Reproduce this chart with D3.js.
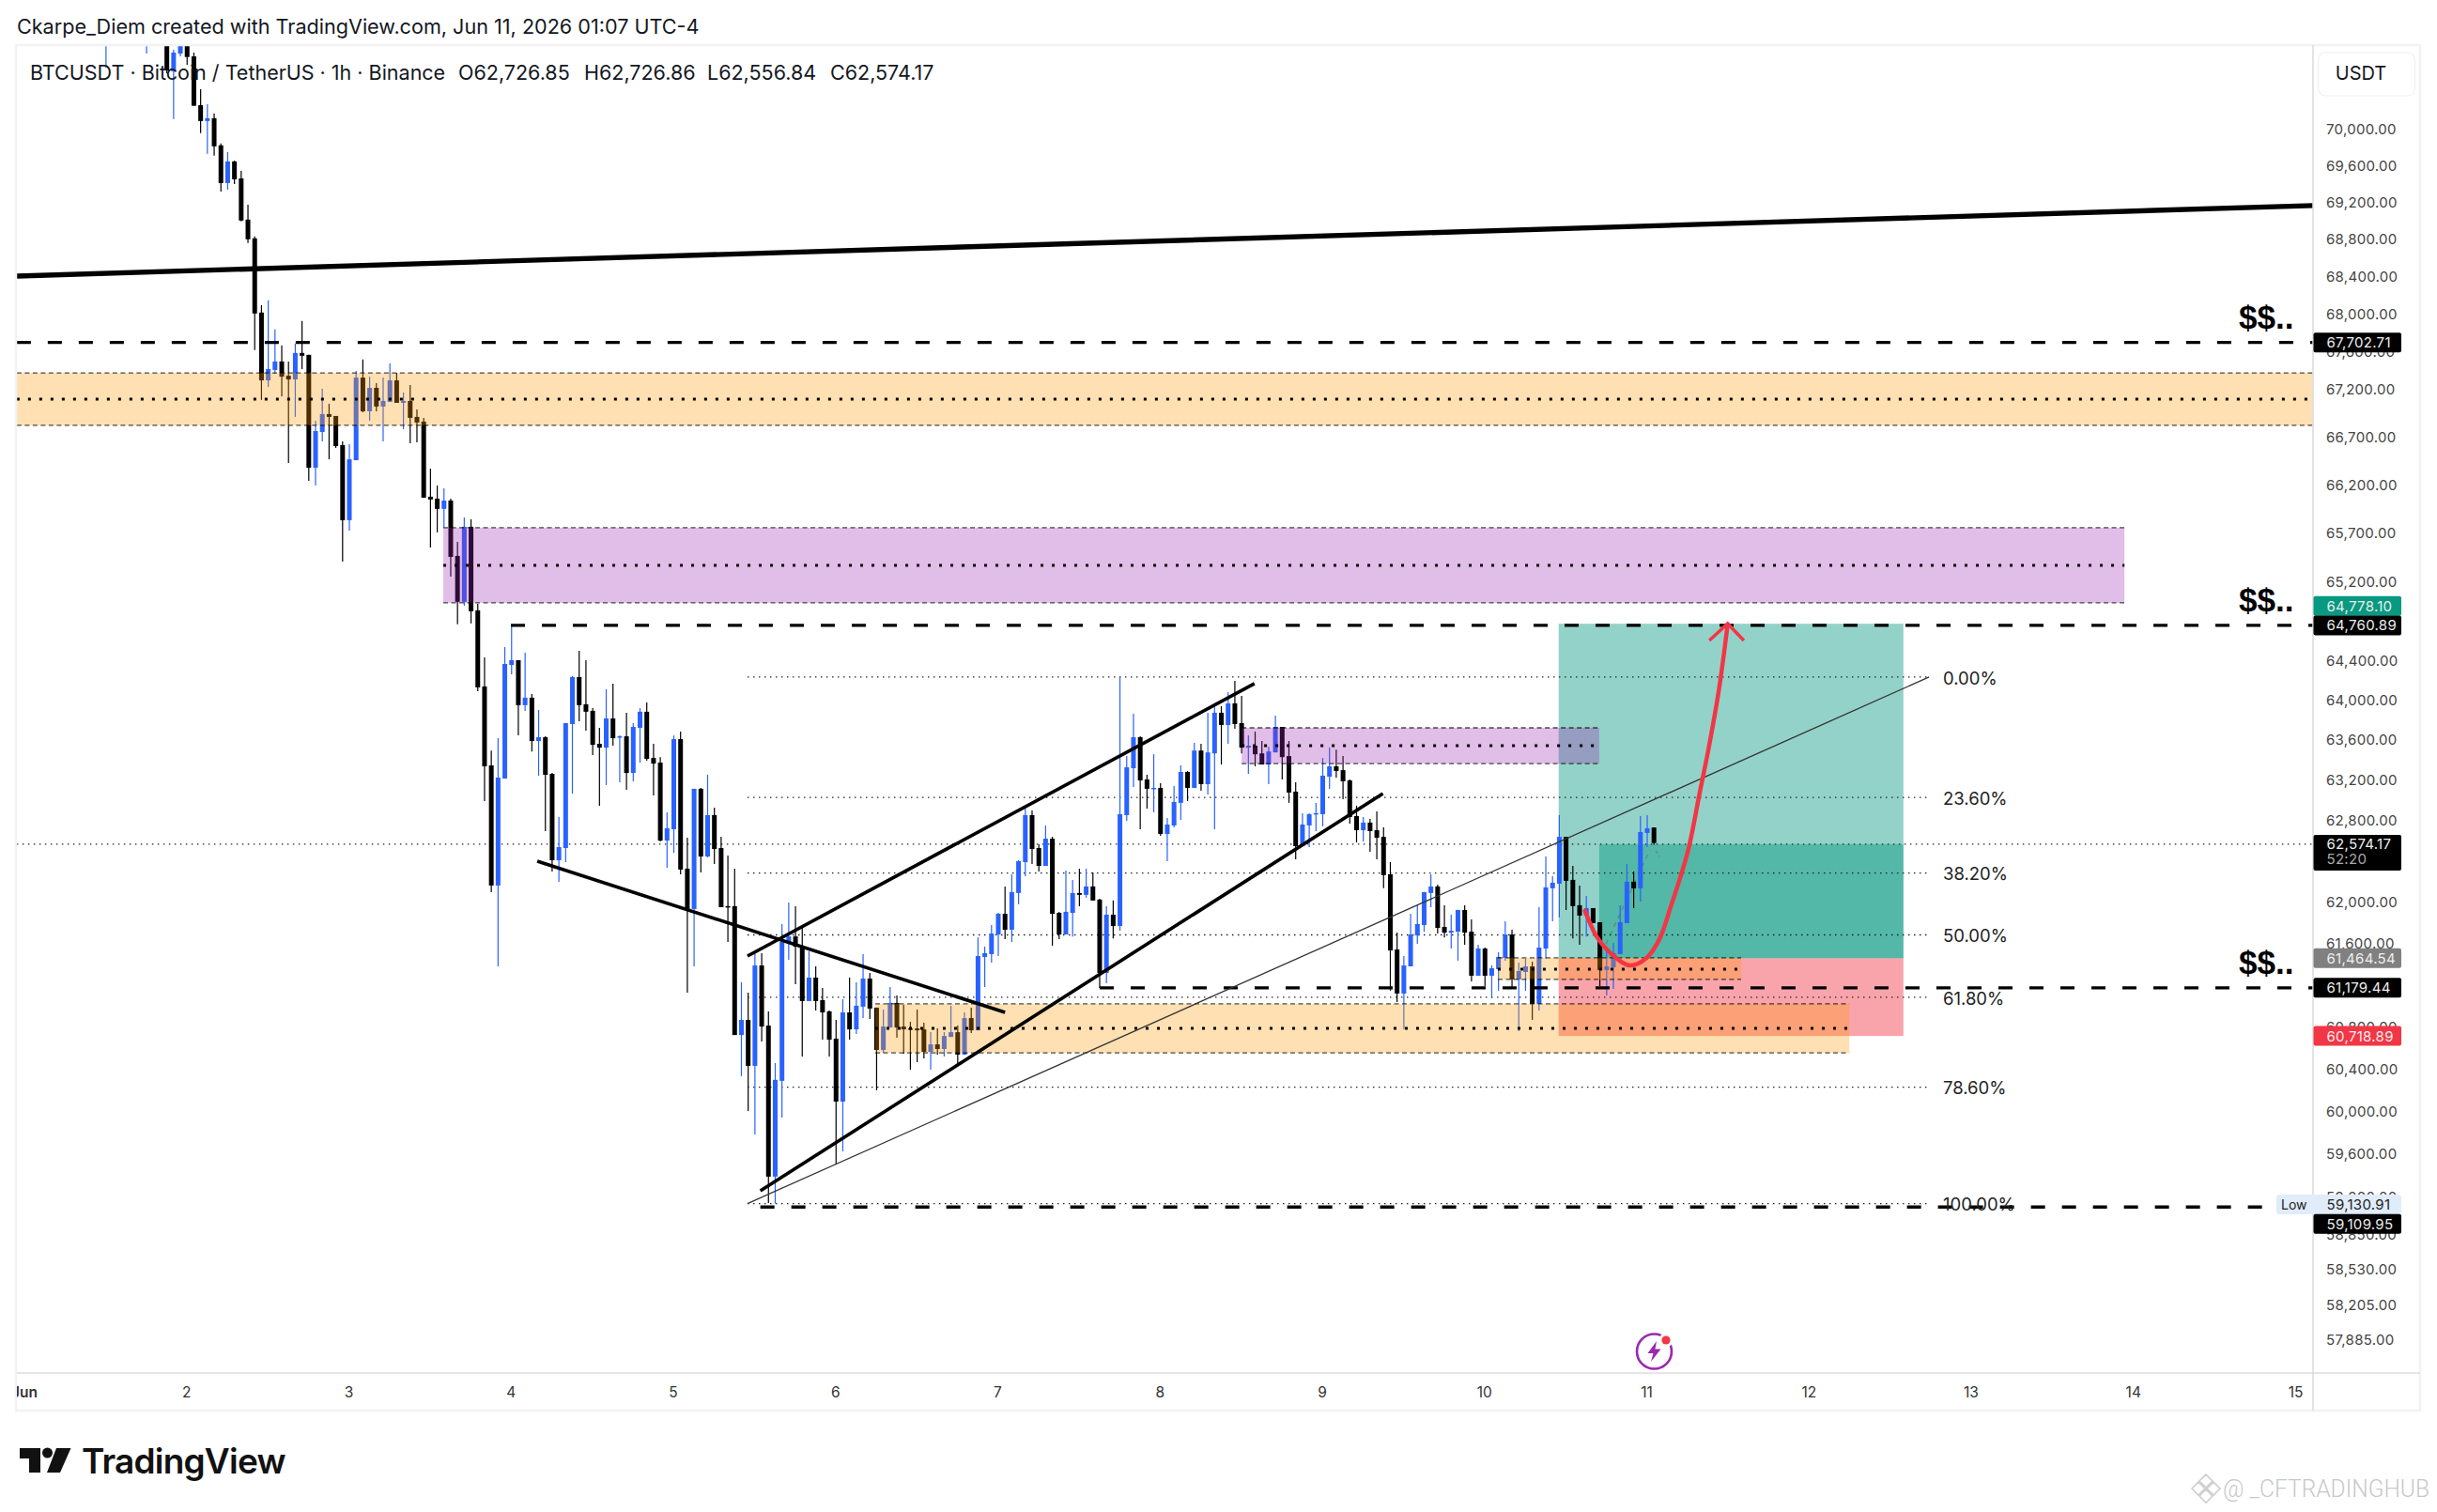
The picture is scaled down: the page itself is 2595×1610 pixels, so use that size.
<!DOCTYPE html>
<html>
<head>
<meta charset="utf-8">
<script src="https://cdn.jsdelivr.net/npm/d3@7"></script>
<style>
    html, body { margin: 0; padding: 0; background: #fff; }
    svg { display: block; font-family: Inter, "Liberation Sans", sans-serif; }
</style>
</head>
<body>
<div id="chart"></div>
<script>
// hours counted from Jun 1 00:00, hours 13-17, 19 and 20 sit above the visible pane
const candleHours = [12, 18].concat(d3.range(21, 242));

const opens = [
    70950, 70950, 71100, 70633, 70830, 71000, 70799, 70259, 70084, 70115,
    69817, 69405, 69641, 69456, 69008, 68805, 68008, 67288, 67398, 67488,
    67337, 67298, 67578, 67558, 66371, 66745, 66933, 66913, 66607, 65827,
    66450, 67317, 66962, 67209, 67012, 67061, 67288, 67051, 67071, 66903,
    66854, 66070, 66050, 65944, 66030, 65459, 64989, 65759, 64902, 64131,
    63341, 62158, 63211, 64348, 64396, 63943, 64018, 63584, 63622, 63257,
    62405, 62525, 63754, 64226, 63952, 63886, 63556, 63518, 63810, 63622,
    63631, 63266, 63716, 63877, 63415, 63369, 62598, 62710, 63603, 62323,
    61929, 63109, 62442, 62849, 62525, 61957, 61957, 60716, 60860, 60423,
    61383, 60806, 59381, 60281, 61609, 61663, 61573, 61041, 61266, 61050,
    60942, 60681, 60085, 60932, 60770, 60987, 61257, 60978, 60574, 60788,
    61023, 60797, 60779, 60779, 60770, 60556, 60627, 60583, 60698, 60743,
    60530, 60878, 60761, 61465, 61492, 61682, 61883, 61728, 62085, 62387,
    62849, 62525, 62350, 62617, 61892, 61682, 61892, 62085, 62067, 62149,
    62021, 61311, 61874, 61764, 62849, 63313, 63622, 63202, 63109, 63118,
    62663, 62747, 62970, 63276, 63118, 63489, 63155, 63461, 63867, 63744,
    63961, 63763, 63518, 63537, 63461, 63350, 63471, 63725, 63434, 63081,
    62543, 62747, 62858, 62858, 63229, 63332, 63294, 63192, 62840, 62700,
    62775, 62700, 62635, 62268, 61537, 61113, 61374, 61673, 61774, 62085,
    62149, 61755, 61700, 61709, 61920, 61709, 61284, 61546, 61284, 61347,
    61456, 61682, 61248, 61320, 61374, 61014, 61546, 62131, 62176, 62635,
    62213, 61966, 61865, 61938, 61801, 61338, 61365, 61492, 61792, 62195,
    62131, 62673, 62726.85
];

const closes = [
    71050, 71050, 70643, 70841, 71000, 70792, 70252, 70084, 70115, 69806,
    69405, 69641, 69446, 68998, 68795, 67998, 67288, 67408, 67488, 67327,
    67298, 67578, 67548, 66371, 66755, 66933, 66903, 66598, 65827, 66459,
    67317, 66962, 67209, 67012, 67071, 67288, 67051, 67071, 66893, 66844,
    66060, 66041, 65944, 66030, 65449, 64989, 65759, 64893, 64122, 63332,
    62158, 63220, 64358, 64396, 63943, 64018, 63584, 63622, 63248, 62405,
    62534, 63763, 64226, 63943, 63877, 63546, 63518, 63810, 63612, 63631,
    63266, 63725, 63877, 63406, 63359, 62598, 62719, 63603, 62314, 61929,
    63109, 62442, 62849, 62515, 61947, 61947, 60716, 60860, 60423, 61383,
    60797, 59381, 60290, 61609, 61663, 61564, 61041, 61266, 61041, 60932,
    60672, 60085, 60932, 60770, 60996, 61257, 60969, 60574, 60797, 61023,
    60788, 60770, 60770, 60761, 60556, 60627, 60583, 60707, 60743, 60530,
    60878, 60761, 61474, 61501, 61691, 61883, 61728, 62094, 62396, 62849,
    62515, 62350, 62617, 61883, 61682, 61902, 62085, 62067, 62149, 62012,
    61311, 61874, 61764, 62858, 63322, 63622, 63192, 63109, 63118, 62663,
    62756, 62979, 63276, 63118, 63489, 63155, 63471, 63867, 63744, 63961,
    63754, 63518, 63537, 63452, 63350, 63480, 63725, 63424, 63072, 62543,
    62756, 62858, 62868, 63239, 63332, 63285, 63183, 62830, 62700, 62775,
    62691, 62626, 62259, 61528, 61113, 61383, 61682, 61783, 62094, 62149,
    61746, 61700, 61718, 61920, 61700, 61284, 61546, 61284, 61356, 61465,
    61682, 61248, 61329, 61374, 61014, 61555, 62140, 62185, 62635, 62204,
    61957, 61865, 61938, 61792, 61338, 61374, 61501, 61801, 62195, 62131,
    62682, 62719, 62574.17
];

const highs = [
    71100, 71100, 71200, 70872, 71100, 71100, 70841, 70435, 70270, 70167,
    69837, 69744, 69651, 69538, 69170, 68825, 68088, 68138, 67828, 67658,
    67488, 67678, 67918, 67558, 66864, 67199, 67041, 66913, 66647, 66617,
    67387, 67508, 67327, 67258, 67317, 67468, 67368, 67160, 67238, 66982,
    66893, 66361, 66186, 66157, 66050, 65604, 65856, 65837, 64969, 64424,
    63489, 63612, 64529, 64749, 64396, 64472, 64056, 63895, 63631, 63266,
    62830, 63763, 64235, 64491, 64396, 63914, 63716, 64103, 64160, 63640,
    63867, 63763, 63914, 63971, 63556, 63424, 62877, 63640, 63678, 62626,
    63109, 63118, 63248, 62923, 62635, 62451, 62323, 61221, 61122, 61501,
    61501, 60942, 60450, 61783, 61993, 61957, 61746, 61519, 61374, 61167,
    60951, 60860, 61059, 61266, 61221, 61492, 61311, 60978, 60960, 61176,
    61095, 61005, 60842, 60960, 60833, 60743, 60779, 60743, 60996, 60806,
    60932, 60978, 61654, 61564, 61774, 61892, 62149, 62268, 62405, 62914,
    62895, 62561, 62747, 62635, 61902, 62305, 62213, 62323, 62323, 62286,
    62030, 61957, 62012, 64226, 63434, 63858, 63631, 63248, 63452, 63164,
    62821, 63137, 63341, 63285, 63565, 63556, 63867, 63933, 63933, 64075,
    64188, 64037, 63640, 63678, 63584, 63527, 63839, 63725, 63584, 63174,
    62868, 62868, 62970, 63415, 63518, 63499, 63434, 63202, 62942, 62830,
    62812, 62886, 62728, 62387, 61700, 61474, 61883, 61966, 62094, 62268,
    62167, 61966, 61874, 61920, 61966, 61828, 61582, 61555, 61383, 61510,
    61810, 61728, 61411, 61447, 61420, 61947, 62442, 62250, 62849, 62635,
    62350, 62158, 62057, 61938, 61801, 61564, 61600, 61966, 62369, 62295,
    62840, 62849, 62726.86
];

const lows = [
    70674, 70830, 70612, 70105, 70799, 70705, 70252, 69950, 69724, 69703,
    69312, 69333, 69394, 68988, 68754, 67608, 67081, 67219, 67358, 67120,
    66420, 66903, 67408, 66235, 66186, 66647, 66459, 66578, 65400, 65720,
    66450, 66952, 66864, 66962, 66647, 67061, 67051, 66775, 66627, 66637,
    66060, 65546, 65701, 65750, 65247, 64759, 64950, 64769, 64084, 62988,
    62094, 61374, 63211, 64254, 63640, 63886, 63480, 63239, 62691, 62295,
    62195, 62387, 63062, 63782, 63688, 63443, 62942, 63146, 63537, 63174,
    63100, 63183, 63369, 63387, 63044, 62589, 62332, 62479, 62268, 61122,
    61374, 62286, 62433, 62369, 61947, 61609, 60716, 60325, 59996, 59775,
    60654, 59135, 59131, 59934, 61437, 61203, 60512, 61041, 60951, 60672,
    60512, 59495, 59617, 60672, 60725, 60878, 60869, 60192, 60547, 60788,
    60690, 60538, 60387, 60458, 60494, 60387, 60530, 60512, 60698, 60432,
    60530, 60734, 60761, 61176, 61411, 61474, 61636, 61609, 61975, 62250,
    62369, 62295, 62350, 61573, 61636, 61682, 61663, 61957, 62039, 62012,
    61167, 61212, 61645, 61718, 62793, 63127, 62710, 62914, 62877, 62645,
    62396, 62728, 62802, 62988, 63118, 63090, 63053, 62710, 63350, 63556,
    63707, 63461, 63257, 63332, 63350, 63155, 63471, 63202, 62970, 62414,
    62543, 62534, 62691, 62738, 63109, 63220, 63007, 62765, 62580, 62589,
    62488, 62414, 62131, 61140, 61032, 60770, 61374, 61591, 61709, 61947,
    61691, 61654, 61546, 61429, 61582, 61230, 61284, 61185, 61068, 61140,
    61429, 61176, 60752, 61140, 60860, 60951, 61447, 61810, 61847, 61920,
    61645, 61582, 61663, 61792, 61185, 61095, 61158, 61492, 61792, 61938,
    62002, 62534, 62556.84
];

const priceTicks = [70000, 69600, 69200, 68800, 68400, 68000, 67600, 67200, 66700, 66200, 65700, 65200,
    64400, 64000, 63600, 63200, 62800, 62000, 61600, 60800, 60400, 60000, 59600, 59200, 58850, 58530, 58205, 57885];
const dayLabels = ["Jun", "2", "3", "4", "5", "6", "7", "8", "9", "10", "11", "12", "13", "14", "15"];
const dayHours = dayLabels.map((d, i) => i * 24);

// drawn price levels and where they start, all run to the right edge
const levelPrices = [67702.71, 64760.89, 61179.44, 59109.95];
const levelStarts = [-1.2, 71.9, 159, 108.8];
const dollarLevels = [67702.71, 64760.89, 61179.44];

const zoneTops = [67367, 65750, 63716, 61014, 61456];
const zoneBottoms = [66814, 64979, 63359, 60547, 61248];
const zoneMids = [67091, 65362, 63537, 60779, 61347];
const zoneStarts = [-1.2, 61.9, 180, 125.8, 217.9];
const zoneEnds = [338.5, 310.6, 232.9, 269.9, 253.9];
const zoneKinds = ["orange", "purple", "purple", "orange", "orange"];

const fibLabels = ["0.00%", "23.60%", "38.20%", "50.00%", "61.80%", "78.60%", "100.00%"];
const fibPrices = [64226, 63024, 62280, 61678, 61077, 60222, 59131];
const fibHours = [106.9, 281.7];

const trendStartHours = [-1.2, 75.8, 106.9, 108.8, 106.9];
const trendStartPrices = [68399, 62396, 61474, 59249, 59131];
const trendEndHours = [338.5, 145, 181.9, 200.9, 281.7];
const trendEndPrices = [69160, 60932, 64160, 63062, 64226];
const trendWidths = [5.4, 3.6, 3.6, 3.6, 1.3];

const targetPrice = 64778.10, entryPrice = 61464.54, stopPrice = 60718.89, lastPrice = 62574.17;
const positionHours = [226.9, 277.9];
const positionFillHour = 232.9;

const arrowHours = [230.8, 232.5, 234.3, 237.4, 239.9, 241.8, 243.6, 246, 247.8, 249, 250.6, 251.9];
const arrowPrices = [61911, 61663, 61519, 61383, 61456, 61636, 61975, 62488, 63081, 63480, 64094, 64760];
const arrowHeadHours = [249.2, 251.9, 254.3];
const arrowHeadPrices = [64596, 64768, 64596];

const ghostHours = [233.9, 240.4];
const ghostPrices = [61591, 62506];
const ghostTipHours = [241.3, 241.8];
const ghostTipPrices = [62497, 62442];

const tagValues = ["67,702.71", "64,778.10", "64,760.89", "61,464.54", "61,179.44", "60,718.89", "59,109.95"];
const tagPrices = [67702.71, 64778.10, 64760.89, 61464.54, 61179.44, 60718.89, 59109.95];
const tagNudges = [0, -19, 0, 0, 0, 0, 18];
const tagFills = ["#000", "#089981", "#000", "#808080", "#000", "#f23645", "#000"];

const width = 2595, height = 1610;
const pane = {left: 18, right: 2463, top: 48, bottom: 1462};

const x = d3.scaleLinear().domain([0, 336]).range([26.5, 2445]);
const y = d3.scaleLog().domain([57885, 70000]).range([1426, 137]);
// lines tied to an exact quoted price sit a touch lower than the candle readings
const yExact = p => y(p) + 1.3;

const svg = d3.select("#chart").append("svg")
    .attr("width", width)
    .attr("height", height);

svg.append("clipPath").attr("id", "pane").append("rect")
    .attr("x", pane.left).attr("y", pane.top)
    .attr("width", pane.right - pane.left).attr("height", pane.bottom - pane.top);
svg.append("clipPath").attr("id", "time-axis").append("rect")
    .attr("x", pane.left).attr("y", pane.bottom)
    .attr("width", pane.right - pane.left).attr("height", 40);

const plot = svg.append("g").attr("clip-path", "url(#pane)");

function band(hourA, hourB, yA, yB, fill) {
    plot.append("rect")
        .attr("x", x(hourA))
        .attr("width", x(hourB) - x(hourA))
        .attr("y", yA)
        .attr("height", yB - yA)
        .attr("fill", fill);
}

function segment(hours, yA, yB, stroke, strokeWidth, dash) {
    plot.append("line")
        .attr("x1", x(hours[0])).attr("y1", yA)
        .attr("x2", x(hours[1])).attr("y2", yB)
        .attr("stroke", stroke)
        .attr("stroke-width", strokeWidth)
        .attr("stroke-dasharray", dash || null);
}

// long position tool stays below the candles
band(positionHours[0], positionHours[1], yExact(targetPrice), yExact(entryPrice), "rgba(8,153,129,0.44)");
band(positionHours[0], positionHours[1], yExact(entryPrice), yExact(stopPrice), "rgba(242,54,69,0.45)");
band(positionFillHour, positionHours[1], yExact(lastPrice), yExact(entryPrice), "rgba(8,153,129,0.46)");

segment(ghostHours, y(ghostPrices[0]), y(ghostPrices[1]), "rgba(110,110,110,0.6)", 1.5, "5 5");
segment(ghostTipHours, y(ghostTipPrices[0]), y(ghostTipPrices[1]), "rgba(110,110,110,0.6)", 1.5, "3 3");

// fib levels and the last price line
fibPrices.forEach(p => segment(fibHours, y(p), y(p), "#222", 1.3, "1.5 4.5"));
segment([-1.2, 338.5], yExact(lastPrice), yExact(lastPrice), "#222", 1.3, "1.5 4.5");

const candles = plot.append("g");
candleHours.forEach(function(hour, i) {
    const up = closes[i] >= opens[i];
    const color = up ? "#2962ff" : "#000";
    const top = y(Math.max(opens[i], closes[i]));
    const bottom = y(Math.min(opens[i], closes[i]));
    candles.append("line")
        .attr("x1", x(hour)).attr("x2", x(hour))
        .attr("y1", y(highs[i])).attr("y2", y(lows[i]))
        .attr("stroke", color)
        .attr("stroke-width", 1.2);
    candles.append("rect")
        .attr("x", x(hour) - 2.5)
        .attr("width", 5)
        .attr("y", top)
        .attr("height", Math.max(bottom - top, 1.5))
        .attr("fill", color);
});

// supply and demand boxes, drawn over the candles
zoneTops.forEach(function(top, i) {
    const fill = zoneKinds[i] === "orange" ? "rgba(255,152,0,0.3)" : "rgba(156,39,176,0.3)";
    band(zoneStarts[i], zoneEnds[i], y(top), y(zoneBottoms[i]), fill);
    const hours = [zoneStarts[i], zoneEnds[i]];
    segment(hours, y(top), y(top), "rgba(0,0,0,0.7)", 1.3, "5 3.5");
    segment(hours, y(zoneBottoms[i]), y(zoneBottoms[i]), "rgba(0,0,0,0.7)", 1.3, "5 3.5");
    segment(hours, y(zoneMids[i]), y(zoneMids[i]), "#000", 3, "3 9");
});

levelPrices.forEach(function(p, i) {
    segment([levelStarts[i], 338.5], yExact(p), yExact(p), "#000", 3.3, "15 18");
});

trendStartHours.forEach(function(h, i) {
    segment([h, trendEndHours[i]], y(trendStartPrices[i]), y(trendEndPrices[i]),
        i === 4 ? "#333" : "#000", trendWidths[i]);
});

// projected move
const arrowLine = d3.line()
    .x(d => x(d[0]))
    .y(d => y(d[1]))
    .curve(d3.curveCatmullRom);
plot.append("path")
    .attr("d", arrowLine(d3.zip(arrowHours, arrowPrices)))
    .attr("fill", "none")
    .attr("stroke", "#f23645")
    .attr("stroke-width", 4.5)
    .attr("stroke-linecap", "round");
plot.append("path")
    .attr("d", d3.line().x(d => x(d[0])).y(d => y(d[1]))(d3.zip(arrowHeadHours, arrowHeadPrices)))
    .attr("fill", "none")
    .attr("stroke", "#f23645")
    .attr("stroke-width", 3.5);

plot.selectAll(".dollars")
    .data(dollarLevels)
    .enter()
    .append("text")
    .attr("x", 2384)
    .attr("y", d => yExact(d) - 15)
    .attr("font-family", "'Liberation Sans', sans-serif")
    .attr("font-weight", 700)
    .attr("font-size", 35)
    .attr("fill", "#000")
    .text("$$..");

fibPrices.forEach(function(p, i) {
    plot.append("text")
        .attr("x", 2069)
        .attr("y", y(p))
        .attr("dy", "0.42em")
        .attr("font-size", 18.5)
        .attr("fill", "#222")
        .text(fibLabels[i]);
});

// lightning marker
const bolt = svg.append("g").attr("transform", "translate(1761.5,1439)");
bolt.append("circle")
    .attr("r", 18.5)
    .attr("fill", "none")
    .attr("stroke", "#9c27b0")
    .attr("stroke-width", 2.6);
bolt.append("path")
    .attr("d", "M2.5,-11 L-7,2 L-1,2 L-3.5,11 L7,-2.5 L1,-2.5 Z")
    .attr("fill", "#9c27b0");
bolt.append("circle").attr("cx", 12.5).attr("cy", -12).attr("r", 7.5).attr("fill", "#fff");
bolt.append("circle").attr("cx", 12.5).attr("cy", -12).attr("r", 4.6).attr("fill", "#f23645");

// frame
svg.append("rect")
    .attr("x", 17).attr("y", 48)
    .attr("width", 2560).attr("height", 1454)
    .attr("fill", "none")
    .attr("stroke", "#f2f2f2")
    .attr("stroke-width", 2.5);
svg.append("line")
    .attr("x1", 18).attr("x2", 2577)
    .attr("y1", pane.bottom).attr("y2", pane.bottom)
    .attr("stroke", "#dcdcdc").attr("stroke-width", 1.6);
svg.append("line")
    .attr("x1", pane.right).attr("x2", pane.right)
    .attr("y1", 48).attr("y2", 1502)
    .attr("stroke", "#dcdcdc").attr("stroke-width", 1.6);

// axes
const priceAxis = d3.axisRight(y)
    .tickValues(priceTicks)
    .tickFormat(d3.format(",.2f"))
    .tickSize(0)
    .tickPadding(0);
const priceG = svg.append("g")
    .attr("transform", "translate(2477,0.7)")
    .call(priceAxis);
priceG.select(".domain").remove();
priceG.selectAll("text")
    .attr("font-family", "Inter, sans-serif")
    .attr("font-size", 15)
    .attr("letter-spacing", 0.3)
    .attr("fill", "#444");

const timeAxis = d3.axisBottom(x)
    .tickValues(dayHours)
    .tickFormat((d, i) => dayLabels[i])
    .tickSize(0)
    .tickPadding(0);
const timeG = svg.append("g")
    .attr("clip-path", "url(#time-axis)")
    .append("g")
    .attr("transform", "translate(-1,1477)")
    .call(timeAxis);
timeG.select(".domain").remove();
timeG.selectAll("text")
    .attr("font-family", "Inter, sans-serif")
    .attr("font-size", 15.5)
    .attr("fill", "#333");
timeG.selectAll("text").filter((d, i) => i === 0).attr("font-weight", 600);

// price tags on the axis
function priceTag(cy, boxHeight, fill, label, textFill) {
    svg.append("rect")
        .attr("x", pane.right + 0.5)
        .attr("y", cy - boxHeight / 2)
        .attr("width", 93.5)
        .attr("height", boxHeight)
        .attr("rx", 2)
        .attr("fill", fill);
    svg.append("text")
        .attr("x", 2477.5)
        .attr("y", cy)
        .attr("dy", "0.36em")
        .attr("font-size", 15)
        .attr("letter-spacing", 0.3)
        .attr("fill", textFill || "#eee")
        .text(label);
}

// low marker goes first, the last price tag sits on top of the labels below
svg.append("rect")
    .attr("x", 2424).attr("y", 1272)
    .attr("width", 133).attr("height", 21)
    .attr("rx", 3)
    .attr("fill", "#e1ecfa");
svg.append("text")
    .attr("x", 2429).attr("y", 1283).attr("dy", "0.36em")
    .attr("font-size", 14).attr("fill", "#222")
    .text("Low");
svg.append("text")
    .attr("x", 2477.5).attr("y", 1282.5).attr("dy", "0.36em")
    .attr("font-size", 15).attr("letter-spacing", 0.3).attr("fill", "#222")
    .text("59,130.91");

tagPrices.forEach(function(p, i) {
    priceTag(yExact(p) + tagNudges[i], 21, tagFills[i], tagValues[i]);
});

svg.append("rect")
    .attr("x", pane.right + 0.5).attr("y", 889)
    .attr("width", 93.5).attr("height", 38)
    .attr("rx", 2)
    .attr("fill", "#000");
svg.append("text")
    .attr("x", 2477.5).attr("y", 898.5).attr("dy", "0.36em")
    .attr("font-size", 15).attr("letter-spacing", 0.3).attr("fill", "#eee")
    .text("62,574.17");
svg.append("text")
    .attr("x", 2477.5).attr("y", 915).attr("dy", "0.36em")
    .attr("font-size", 15).attr("letter-spacing", 0.3).attr("fill", "#aaa")
    .text("52:20");

// unit button
svg.append("rect")
    .attr("x", 2468.5).attr("y", 56)
    .attr("width", 103).attr("height", 46)
    .attr("rx", 8)
    .attr("fill", "#fff")
    .attr("stroke", "#f0f0f0")
    .attr("stroke-width", 1.2);
svg.append("text")
    .attr("x", 2514).attr("y", 78)
    .attr("dy", "0.36em")
    .attr("text-anchor", "middle")
    .attr("font-size", 20)
    .attr("fill", "#131722")
    .text("USDT");

// header texts
svg.append("text")
    .attr("x", 18).attr("y", 28).attr("dy", "0.36em")
    .attr("font-size", 21.6)
    .attr("fill", "#131722")
    .text("Ckarpe_Diem created with TradingView.com, Jun 11, 2026 01:07 UTC-4");
svg.append("text")
    .attr("x", 32).attr("y", 77).attr("dy", "0.36em")
    .attr("font-size", 21.5)
    .attr("fill", "#131722")
    .text("BTCUSDT · Bitcoin / TetherUS · 1h · Binance");

const legendTexts = ["O62,726.85", "H62,726.86", "L62,556.84", "C62,574.17"];
const legendLefts = [488, 622, 753, 884];
legendTexts.forEach(function(t, i) {
    svg.append("text")
        .attr("x", legendLefts[i]).attr("y", 77).attr("dy", "0.36em")
        .attr("font-size", 21.5)
        .attr("fill", "#131722")
        .text(t);
});

// TradingView logo
svg.append("path")
    .attr("d", "M21,1542 H43 V1568 H31 V1553 H21 Z M60,1542 H75.5 L64,1568 H50 Z")
    .attr("fill", "#111");
svg.append("circle")
    .attr("cx", 50.5).attr("cy", 1547).attr("r", 5.5)
    .attr("fill", "#111");
svg.append("text")
    .attr("x", 87).attr("y", 1569)
    .attr("font-size", 37)
    .attr("font-weight", 600)
    .attr("letter-spacing", -0.8)
    .attr("fill", "#111")
    .text("TradingView");

// watermark
const mark = svg.append("g").attr("transform", "translate(2349,1585)");
mark.append("path")
    .attr("d", "M0,-15 L7,-8 L0,-1 L-7,-8 Z M-8,-7 L-1,0 L-8,7 L-15,0 Z M8,-7 L15,0 L8,7 L1,0 Z M0,1 L7,8 L0,15 L-7,8 Z")
    .attr("fill", "none")
    .attr("stroke", "#cfcfcf")
    .attr("stroke-width", 1.6);
svg.append("text")
    .attr("x", 2367).attr("y", 1585).attr("dy", "0.36em")
    .attr("font-family", "Roboto, sans-serif")
    .attr("font-size", 25)
    .attr("font-weight", 300)
    .attr("textLength", 220)
    .attr("lengthAdjust", "spacingAndGlyphs")
    .attr("fill", "#c8c8c8")
    .text("@ _CFTRADINGHUB");
</script>
</body>
</html>
